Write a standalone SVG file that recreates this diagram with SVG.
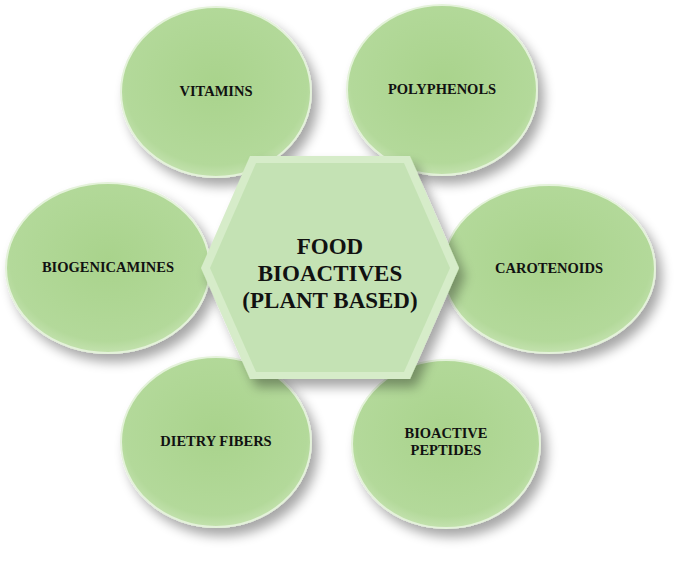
<svg xmlns="http://www.w3.org/2000/svg" width="685" height="562" viewBox="0 0 685 562">
<defs>
<radialGradient id="eg" cx="0.5" cy="0.45" r="0.6">
<stop offset="0" stop-color="#a9d38c"/><stop offset="0.8" stop-color="#b3d99a"/><stop offset="1" stop-color="#cfe8bd"/>
</radialGradient>
<filter id="sh" x="-20%" y="-20%" width="150%" height="150%"><feGaussianBlur in="SourceAlpha" stdDeviation="6"/><feOffset dx="6" dy="8"/><feComponentTransfer><feFuncA type="linear" slope="0.35"/></feComponentTransfer><feMerge><feMergeNode/><feMergeNode in="SourceGraphic"/></feMerge></filter>
</defs>
<style>
.e{fill:url(#eg);stroke:#e4f2da;stroke-width:2;filter:url(#sh)}
.t{font-family:"Liberation Serif",serif;font-weight:bold;font-size:14.5px;text-anchor:middle;fill:#111}
.c{font-family:"Liberation Serif",serif;font-weight:bold;font-size:23px;text-anchor:middle;fill:#111}
</style>
<rect width="685" height="562" fill="#fff"/>
<g id="n1"><ellipse class="e" cx="216" cy="92" rx="95" ry="85"/><text class="t" x="216" y="96">VITAMINS</text></g>
<g id="n2"><ellipse class="e" cx="442" cy="90" rx="95" ry="85"/><text class="t" x="442" y="94">POLYPHENOLS</text></g>
<g id="n3"><ellipse class="e" cx="108" cy="268" rx="102" ry="85"/><text class="t" x="108" y="272">BIOGENICAMINES</text></g>
<g id="n4"><ellipse class="e" cx="549" cy="269" rx="106" ry="84"/><text class="t" x="549" y="273">CAROTENOIDS</text></g>
<g id="n5"><ellipse class="e" cx="216" cy="442" rx="95" ry="85"/><text class="t" x="216" y="446">DIETRY FIBERS</text></g>
<g id="n6"><ellipse class="e" cx="446" cy="444" rx="94" ry="84"/><text class="t" x="446" y="438">BIOACTIVE</text><text class="t" x="446" y="455">PEPTIDES</text></g>
<g id="center">
<polygon points="250,156 410,156 459,268 410,379 250,379 201,268" fill="#d6ecc9" filter="url(#sh)"/>
<polygon points="256,163 404,163 450,268 404,372 256,372 210,268" fill="#c4e2b4"/>
<text class="c" x="330" y="254">FOOD</text>
<text class="c" x="330" y="281">BIOACTIVES</text>
<text class="c" x="330" y="308">(PLANT BASED)</text>
</g>
<g id="connectors"/>
</svg>
